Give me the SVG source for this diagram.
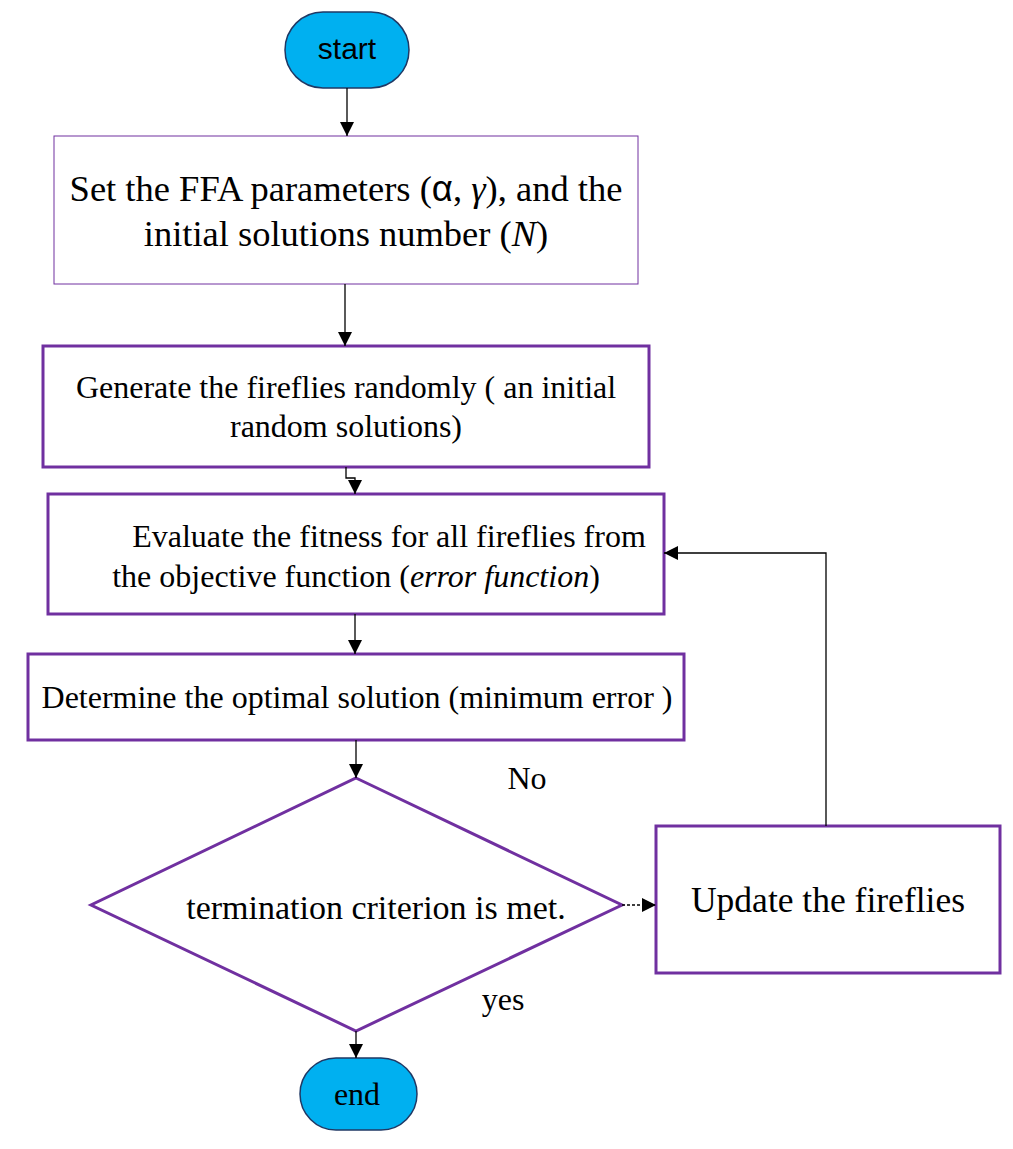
<svg xmlns="http://www.w3.org/2000/svg" width="1013" height="1149" viewBox="0 0 1013 1149">
<style>
.t{font-family:"Liberation Serif",serif;font-size:32px;fill:#000;text-anchor:middle}
.p{fill:#fff;stroke:#7030a0;stroke-width:3}
.c{fill:none;stroke:#000;stroke-width:1.3}
.term{fill:#00b0f0;stroke:#1f3864;stroke-width:1.5}
</style>
<defs>
<marker id="d" markerWidth="14" markerHeight="14" refX="14" refY="7" orient="auto" markerUnits="userSpaceOnUse"><path d="M0,0 L14,7 L0,14 z" fill="#000"/></marker></defs>
<g id="start"><rect class="term" x="285" y="12" width="124" height="76" rx="38"/><text x="347" y="59" font-family="Liberation Sans,sans-serif" font-size="30" text-anchor="middle">start</text></g>
<g id="set"><rect x="54" y="136" width="584" height="148" fill="#fff" stroke="#7030a0" stroke-width="1"/><text class="t" x="346" y="201" style="font-size:36.5px">Set the FFA  parameters (<tspan font-family="Liberation Sans,sans-serif">α</tspan>, <tspan font-style="italic">γ</tspan>), and the</text><text class="t" x="346" y="246" style="font-size:36.5px">initial solutions  number (<tspan font-style="italic">N</tspan>)</text></g>
<g id="gen"><rect class="p" x="43" y="346" width="606" height="121"/><text class="t" x="346" y="398">Generate the fireflies randomly ( an initial</text><text class="t" x="346" y="437">random solutions)</text></g>
<g id="eval"><rect class="p" x="48" y="494" width="616" height="120"/><text class="t" x="389" y="547">Evaluate the fitness for all fireflies from</text><text class="t" x="356" y="587">the objective function (<tspan font-style="italic">error function</tspan>)</text></g>
<g id="det"><rect class="p" x="28" y="654" width="656" height="86"/><text class="t" x="357" y="708">Determine the optimal solution (minimum error )</text></g>
<g id="dec"><polygon class="p" points="356,778 622,905 356,1031 91,905"/><text class="t" x="376" y="919" style="font-size:34px">termination criterion is met.</text></g>
<g id="upd"><rect class="p" x="656" y="826" width="344" height="147"/><text class="t" x="828" y="912" style="font-size:35.5px">Update the fireflies</text></g>
<g id="end"><rect class="term" x="300" y="1058" width="117" height="72" rx="36"/><text class="t" x="357" y="1105">end</text></g>
<g id="conn">
<line class="c" x1="347" y1="88" x2="347" y2="136" marker-end="url(#d)"/>
<line class="c" x1="345" y1="284" x2="345" y2="346" marker-end="url(#d)"/>
<path class="c" d="M346,467 V478 H355 V494" marker-end="url(#d)"/>
<line class="c" x1="355" y1="614" x2="355" y2="654" marker-end="url(#d)"/>
<line class="c" x1="356" y1="740" x2="356" y2="778" marker-end="url(#d)"/>
<line class="c" x1="622" y1="905" x2="656" y2="905" stroke-dasharray="3,2" marker-end="url(#d)"/>
<path class="c" d="M826,826 V553 H664" marker-end="url(#d)"/>
<line class="c" x1="356" y1="1031" x2="356" y2="1058" marker-end="url(#d)"/>
</g>
<text class="t" x="527" y="789">No</text>
<text class="t" x="503" y="1010">yes</text>
</svg>
